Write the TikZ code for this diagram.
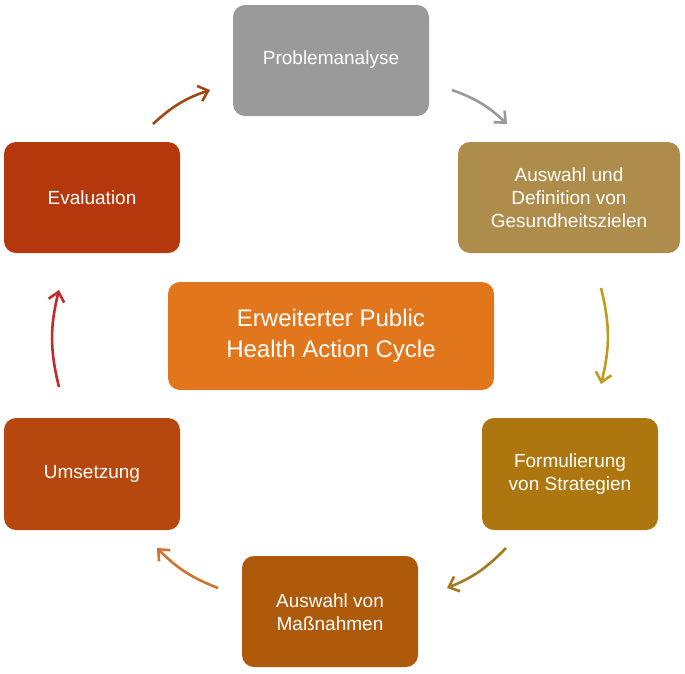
\documentclass[tikz,border=0pt]{standalone}
\usepackage{fontspec}
\setmainfont{Liberation Sans}
\usetikzlibrary{arrows.meta}
\definecolor{cA}{HTML}{9A9A9A}
\definecolor{cB}{HTML}{AE8C4C}
\definecolor{cC}{HTML}{AE760E}
\definecolor{cD}{HTML}{AE5A0A}
\definecolor{cE}{HTML}{B5470F}
\definecolor{cF}{HTML}{B5380C}
\definecolor{cM}{HTML}{E2761C}
\definecolor{aA}{HTML}{9A9A9A}
\definecolor{aB}{HTML}{C39A20}
\definecolor{aC}{HTML}{A27A20}
\definecolor{aD}{HTML}{D2732A}
\definecolor{aE}{HTML}{C42A2A}
\definecolor{aF}{HTML}{9C4A12}
\begin{document}
\begin{tikzpicture}[x=1pt,y=-1pt,
 box/.style={rounded corners=12pt,fill=#1,text=white,font=\fontsize{19}{22}\selectfont,align=center},
 arr/.style={draw=#1,line width=2.6pt,-{Straight Barb[length=9pt,width=16pt]}}]
\useasboundingbox (0,0) rectangle (685,673);
\path[box=cA] (233,5) rectangle (429,116);
\node[text=white,font=\fontsize{19}{22}\selectfont] (pa) at (331,60) {Problemanalyse};
\path[box=cB] (458,142) rectangle (680,253);
\node[text=white,font=\fontsize{19}{23}\selectfont,align=center] (ad) at (569,198) {Auswahl und\\Definition von\\Gesundheitszielen};
\path[box=cC] (482,418) rectangle (658,530);
\node[text=white,font=\fontsize{19}{23}\selectfont,align=center] (fs) at (570,474) {Formulierung\\von Strategien};
\path[box=cD] (242,556) rectangle (418,667);
\node[text=white,font=\fontsize{19}{23}\selectfont,align=center] (am) at (330,612) {Auswahl von\\Maßnahmen};
\path[box=cE] (4,418) rectangle (180,530);
\node[text=white,font=\fontsize{19}{22}\selectfont] (um) at (92,474) {Umsetzung};
\path[box=cF] (4,142) rectangle (180,253);
\node[text=white,font=\fontsize{19}{22}\selectfont] (ev) at (92,198) {Evaluation};
\path[box=cM] (168,282) rectangle (494,390);
\node[text=white,font=\fontsize{24}{31}\selectfont,align=center] (ct) at (331,336) {Erweiterter Public\\Health Action Cycle};
\coordinate (a1) at (153,124); \coordinate (b1) at (210,90);
\coordinate (a2) at (452,90); \coordinate (b2) at (507,124);
\coordinate (a3) at (601,288); \coordinate (b3) at (601,384);
\coordinate (a4) at (506,548); \coordinate (b4) at (447,588);
\coordinate (a5) at (218,588); \coordinate (b5) at (157,548);
\coordinate (a6) at (59,387); \coordinate (b6) at (59,290);
\draw[arr=aF] (a1) to[bend left=12] (b1);
\draw[arr=aA] (a2) to[bend left=12] (b2);
\draw[arr=aB] (a3) to[bend left=14] (b3);
\draw[arr=aC] (a4) to[bend left=12] (b4);
\draw[arr=aD] (a5) to[bend left=12] (b5);
\draw[arr=aE] (a6) to[bend left=14] (b6);
\end{tikzpicture}
\end{document}
